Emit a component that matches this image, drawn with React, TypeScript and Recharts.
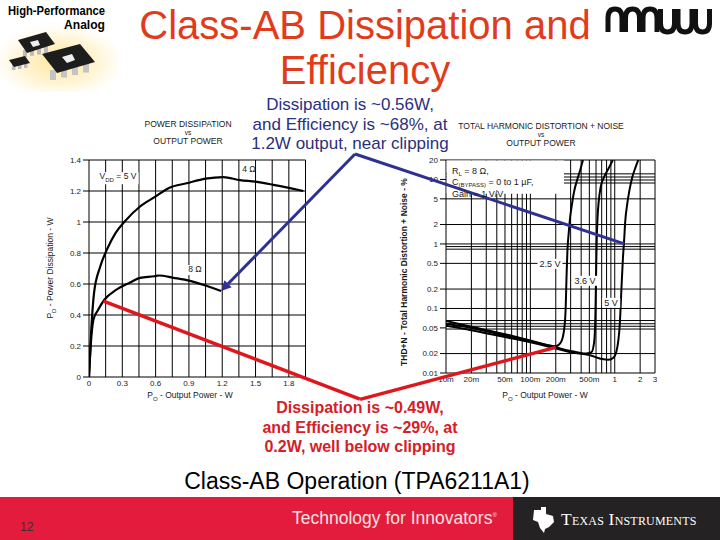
import React from 'react';
import { LineChart, Line, XAxis, YAxis, CartesianGrid, ReferenceLine, ReferenceArea } from 'recharts';

// ---- Power dissipation vs output power (VDD = 5 V) ----
const po4Ohm = [0, 0.02, 0.045, 0.1, 0.16, 0.24, 0.33, 0.46, 0.59, 0.72, 0.88, 1.05, 1.21, 1.36, 1.5, 1.66, 1.8, 1.93];
const pd4Ohm = [0, 0.3, 0.54, 0.71, 0.82, 0.93, 1.01, 1.1, 1.16, 1.22, 1.25, 1.28, 1.29, 1.27, 1.26, 1.24, 1.22, 1.2];
const po8Ohm = [0, 0.015, 0.04, 0.08, 0.14, 0.24, 0.37, 0.46, 0.59, 0.63, 0.76, 0.91, 1.05, 1.19];
const pd8Ohm = [0, 0.2, 0.37, 0.43, 0.5, 0.56, 0.61, 0.64, 0.65, 0.655, 0.64, 0.62, 0.59, 0.555];

const pdTicksX = [0, 0.3, 0.6, 0.9, 1.2, 1.5, 1.8];
const pdTicksY = [0, 0.2, 0.4, 0.6, 0.8, 1, 1.2, 1.4];
const pdGridX = [0, 0.15, 0.3, 0.45, 0.6, 0.75, 0.9, 1.05, 1.2, 1.35, 1.5, 1.65, 1.8, 1.95];

// ---- THD+N vs output power (RL = 8 ohm) ----
const po25V = [0.01, 0.02, 0.05, 0.1, 0.2, 0.23, 0.25, 0.262, 0.268, 0.275, 0.285, 0.295, 0.31, 0.33, 0.36, 0.39, 0.42];
const thd25V = [0.064, 0.052, 0.04, 0.032, 0.026, 0.03, 0.045, 0.1, 0.3, 0.8, 1.5, 2.5, 4, 6.5, 10, 14, 20];
const po36V = [0.01, 0.02, 0.05, 0.1, 0.2, 0.3, 0.45, 0.53, 0.57, 0.59, 0.6, 0.61, 0.625, 0.645, 0.68, 0.75, 0.85, 0.95];
const thd36V = [0.058, 0.05, 0.038, 0.031, 0.025, 0.022, 0.02, 0.021, 0.03, 0.08, 0.3, 1, 2.5, 4.5, 7.5, 11, 15, 20];
const po5V = [0.01, 0.02, 0.05, 0.1, 0.2, 0.3, 0.5, 0.7, 0.83, 0.95, 1.05, 1.15, 1.2, 1.25, 1.29, 1.33, 1.4, 1.5, 1.62, 1.75, 1.9];
const thd5V = [0.054, 0.046, 0.036, 0.03, 0.024, 0.021, 0.019, 0.0165, 0.016, 0.017, 0.022, 0.06, 0.2, 0.6, 1.1, 2.2, 4, 7, 11, 15, 20];

const thdTicksX = [0.01, 0.02, 0.05, 0.1, 0.2, 0.5, 1, 2, 3];
const thdTickLabelsX = ['10m', '20m', '50m', '100m', '200m', '500m', '1', '2', '3'];
const thdTicksY = [0.01, 0.02, 0.05, 0.1, 0.2, 0.5, 1, 2, 5, 10, 20];
const thdGridX = [0.01, 0.02, 0.03, 0.04, 0.05, 0.06, 0.07, 0.08, 0.09, 0.1, 0.2, 0.3, 0.4, 0.5, 0.6, 0.7, 0.8, 0.9, 1, 2, 3];
const thdGridY = [0.01, 0.02, 0.048, 0.053, 0.058, 0.065, 0.1, 0.2, 0.5, 0.83, 0.91, 1, 2, 5, 8.8, 9.8, 10.9, 12.2, 20];

// annotation callouts: [label corner, point on curve] in each chart's data units
const blueLeft = [{ x: 2.396, y: 1.439 }, { x: 1.19, y: 0.555 }];
const redLeft = [{ x: 2.44, y: -0.142 }, { x: 0.13, y: 0.49 }];
const blueRight = [{ x: 0.000835, y: 24.8 }, { x: 1.3, y: 1.0 }];
const redRight = [{ x: 0.000957, y: 0.0039 }, { x: 0.2, y: 0.025 }];

const zip = (xs: number[], ys: number[]) => xs.map((x, i) => ({ x, y: ys[i] }));

const font = '"Liberation Sans", Arial, sans-serif';
const tick = { fontSize: 8, fill: '#1a1a1a', fontFamily: font };
const BLUE = '#2e3192';
const RED = '#e0161d';

const ArrowLine = (props: any) => {
  const { x1, y1, x2, y2, stroke, strokeWidth } = props;
  const a = Math.atan2(y2 - y1, x2 - x1);
  const len = 10;
  const half = 5;
  const bx = x2 - len * Math.cos(a);
  const by = y2 - len * Math.sin(a);
  const pts = `${x2},${y2} ${bx + half * Math.sin(a)},${by - half * Math.cos(a)} ${bx - half * Math.sin(a)},${by + half * Math.cos(a)}`;
  return (
    <g>
      <line x1={x1} y1={y1} x2={bx} y2={by} stroke={stroke} strokeWidth={strokeWidth} />
      <polygon points={pts} fill={stroke} />
    </g>
  );
};

const T = ({ x, y, size = 8.5, color = '#1a1a1a', weight = 'normal', rotate = 0, bg, align = 'center', children }: any) => (
  <div
    style={{
      position: 'absolute',
      left: x,
      top: y,
      transform: `translate(${align === 'left' ? '0' : '-50%'}, -50%) rotate(${rotate}deg)`,
      fontSize: size,
      color,
      fontWeight: weight,
      whiteSpace: 'nowrap',
      lineHeight: 1.15,
      textAlign: 'center',
      background: bg,
      padding: bg ? '0 2px' : 0,
    }}
  >
    {children}
  </div>
);

const DissipationChart = () => (
  <div style={{ position: 'absolute', left: 40, top: 150 }}>
    <LineChart width={280} height={257} margin={{ top: 10, right: 14.5, bottom: 0, left: 0 }}>
      <CartesianGrid vertical={false} stroke="#000" strokeWidth={1} />
      {pdGridX.map((v) => (
        <ReferenceLine key={v} x={v} stroke="#000" strokeWidth={1} zIndex={-100} />
      ))}
      <XAxis type="number" dataKey="x" domain={[0, 1.95]} ticks={pdTicksX} interval={0} allowDataOverflow
        axisLine={false} tickLine={false} tickSize={0} tickMargin={3} tick={tick} height={30} />
      <YAxis type="number" dataKey="y" domain={[0, 1.4]} ticks={pdTicksY} interval={0} allowDataOverflow
        axisLine={false} tickLine={{ stroke: '#000' }} tickSize={6} tickMargin={2} width={49} tick={tick} />
      <Line data={zip(po4Ohm, pd4Ohm)} dataKey="y" type="monotone" stroke="#000" strokeWidth={2.2} dot={false} isAnimationActive={false} />
      <Line data={zip(po8Ohm, pd8Ohm)} dataKey="y" type="monotone" stroke="#000" strokeWidth={2.2} dot={false} isAnimationActive={false} />
      <ReferenceLine segment={blueLeft} ifOverflow="visible" stroke={BLUE} strokeWidth={3} shape={ArrowLine} zIndex={2500} />
      <ReferenceLine segment={redLeft} ifOverflow="visible" stroke={RED} strokeWidth={3.5} zIndex={2500} />
    </LineChart>
  </div>
);

const ThdChart = () => (
  <div style={{ position: 'absolute', left: 395, top: 150 }}>
    <LineChart width={275} height={253} margin={{ top: 10, right: 15, bottom: 0, left: 0 }}>
      {thdGridX.map((v) => (
        <ReferenceLine key={'x' + v} x={v} stroke="#000" strokeWidth={1} zIndex={-100} />
      ))}
      {thdGridY.map((v) => (
        <ReferenceLine key={'y' + v} y={v} stroke="#000" strokeWidth={1} zIndex={-100} />
      ))}
      <ReferenceArea x1={0.0102} x2={0.25} y1={6} y2={19.6} fill="#fff" fillOpacity={1} stroke="none" zIndex={-50} />
      <XAxis type="number" dataKey="x" scale="log" domain={[0.01, 3]} ticks={thdTicksX} interval={0} allowDataOverflow
        tickFormatter={(v: number) => thdTickLabelsX[thdTicksX.indexOf(v)]}
        axisLine={false} tickLine={false} tickSize={0} tickMargin={3} tick={tick} height={30} />
      <YAxis type="number" dataKey="y" scale="log" domain={[0.01, 20]} ticks={thdTicksY} interval={0} allowDataOverflow
        tickFormatter={(v: number) => String(v)}
        axisLine={false} tickLine={{ stroke: '#000' }} tickSize={6} tickMargin={2} width={51} tick={tick} />
      <Line data={zip(po25V, thd25V)} dataKey="y" type="monotone" stroke="#000" strokeWidth={2} dot={false} isAnimationActive={false} />
      <Line data={zip(po36V, thd36V)} dataKey="y" type="monotone" stroke="#000" strokeWidth={2} dot={false} isAnimationActive={false} />
      <Line data={zip(po5V, thd5V)} dataKey="y" type="monotone" stroke="#000" strokeWidth={2} dot={false} isAnimationActive={false} />
      <ReferenceLine segment={blueRight} ifOverflow="visible" stroke={BLUE} strokeWidth={3} zIndex={2500} />
      <ReferenceLine segment={redRight} ifOverflow="visible" stroke={RED} strokeWidth={3.5} zIndex={2500} />
    </LineChart>
  </div>
);

// arrow-style wordmark: three arches, then three cups
const logoArches = [true, true, true, false, false, false];

const App: React.FC = () => (
  <div style={{ position: 'absolute', left: 0, top: 0, width: 720, height: 540, background: '#fff', overflow: 'hidden', fontFamily: font }}>
    <style>{'.recharts-surface, .recharts-wrapper { overflow: visible !important; }'}</style>

    {/* top-left product badge */}
    <svg width={118} height={92} style={{ position: 'absolute', left: 0, top: 0 }}>
      <defs>
        <radialGradient id="glow" cx="50%" cy="55%" r="55%">
          <stop offset="0%" stopColor="#ffe69a" />
          <stop offset="60%" stopColor="#fff5d6" />
          <stop offset="100%" stopColor="#ffffff" />
        </radialGradient>
      </defs>
      <rect x={0} y={24} width={118} height={68} fill="url(#glow)" />
      <text x={8} y={15} fontSize={12} fontWeight="bold" fontFamily={font} textLength={97} lengthAdjust="spacingAndGlyphs">High-Performance</text>
      <text x={64} y={29} fontSize={12} fontWeight="bold" fontFamily={font} textLength={41} lengthAdjust="spacingAndGlyphs">Analog</text>
      {[0, 1, 2, 3].map((i) => <rect key={'a' + i} x={23 + i * 7} y={50 - i * 1.2} width={4} height={7} fill="#bbb" />)}
      <polygon points="18,40 46,32 55,44 27,53" fill="#1d1d1d" />
      {[0, 1, 2].map((i) => <rect key={'b' + i} x={12 + i * 6} y={64 - i} width={3.5} height={6} fill="#bbb" />)}
      <polygon points="9,60 25,56 30,63 14,67" fill="#1d1d1d" />
      {[0, 1, 2, 3].map((i) => <rect key={'c' + i} x={50 + i * 11} y={70 - i * 2.5} width={6} height={10} fill="#c4c4c4" />)}
      <polygon points="42,54 80,44 95,62 57,73" fill="#1d1d1d" />
      <polygon points="62,57 72,54 75,60 67,63" fill="#eee" />
      <polygon points="30,42 38,40 40,45 33,47" fill="#eee" />
    </svg>

    {/* top-right logo */}
    <svg width={112} height={34} style={{ position: 'absolute', left: 603, top: 4 }}>
      {logoArches.map((up, i) => {
        const x0 = 5 + i * 17.5;
        const d = up
          ? `M${x0} 28 V14 Q${x0} 5 ${x0 + 7} 5 Q${x0 + 14} 5 ${x0 + 14} 14 V28`
          : `M${x0} 5 V19 Q${x0} 28 ${x0 + 7} 28 Q${x0 + 14} 28 ${x0 + 14} 19 V5`;
        return <path key={i} d={d} stroke="#111" strokeWidth={5} fill="none" />;
      })}
    </svg>

    {/* title */}
    <div style={{ position: 'absolute', left: 0, top: 3, width: 730, textAlign: 'center', color: '#e23b1c', fontSize: 40, lineHeight: '45px' }}>
      Class-AB Dissipation and
      <br />
      Efficiency
    </div>

    {/* chart captions */}
    <T x={188} y={125} size={8.5}>POWER DISSIPATION</T>
    <T x={188} y={133} size={6.5}>vs</T>
    <T x={188} y={142} size={8.5}>OUTPUT POWER</T>
    <T x={541} y={127} size={8.5}>TOTAL HARMONIC DISTORTION + NOISE</T>
    <T x={541} y={135} size={6.5}>vs</T>
    <T x={541} y={144} size={8.5}>OUTPUT POWER</T>

    <DissipationChart />
    <ThdChart />

    {/* axis titles */}
    <T x={52} y={268} rotate={-90}>P<sub style={{ fontSize: 6 }}>D</sub> - Power Dissipation - W</T>
    <T x={190} y={397}>P<sub style={{ fontSize: 6 }}>O</sub> - Output Power - W</T>
    <T x={405} y={272} rotate={-90} weight="bold">THD+N - Total Harmonic Distortion + Noise - %</T>
    <T x={545} y={397}>P<sub style={{ fontSize: 6 }}>O</sub> - Output Power - W</T>

    {/* in-plot labels */}
    <T x={118} y={178} bg="#fff">V<sub style={{ fontSize: 6 }}>DD</sub> = 5 V</T>
    <T x={249} y={170}>4 Ω</T>
    <T x={195} y={270} bg="#fff">8 Ω</T>
    <T x={452} y={172} align="left" size={9}>R<sub style={{ fontSize: 6 }}>L</sub> = 8 Ω,</T>
    <T x={452} y={183} align="left" size={9}>C<sub style={{ fontSize: 6 }}>(BYPASS)</sub> = 0 to 1 µF,</T>
    <T x={452} y={194} align="left" size={9}>Gain = 1 V/V</T>
    <T x={550} y={264} bg="#fff" size={9}>2.5 V</T>
    <T x={585} y={281} bg="#fff" size={9}>3.6 V</T>
    <T x={611} y={303} bg="#fff" size={9}>5 V</T>

    {/* callout texts */}
    <div style={{ position: 'absolute', left: 200, width: 300, top: 95, textAlign: 'center', color: '#2b2f7e', fontSize: 17, lineHeight: '19.5px' }}>
      Dissipation is ~0.56W,
      <br />
      and Efficiency is ~68%, at
      <br />
      1.2W output, near clipping
    </div>
    <div style={{ position: 'absolute', left: 210, width: 300, top: 398, textAlign: 'center', color: '#d42027', fontSize: 16, fontWeight: 'bold', lineHeight: '19.5px' }}>
      Dissipation is ~0.49W,
      <br />
      and Efficiency is ~29%, at
      <br />
      0.2W, well below clipping
    </div>

    <div style={{ position: 'absolute', left: 157, width: 400, top: 468, textAlign: 'center', color: '#000', fontSize: 23, lineHeight: '26px' }}>
      Class-AB Operation (TPA6211A1)
    </div>

    {/* footer */}
    <div style={{ position: 'absolute', left: 0, top: 497, width: 513, height: 43, background: '#e31c3d' }} />
    <div style={{ position: 'absolute', left: 513, top: 497, width: 207, height: 43, background: '#252223' }} />
    <div style={{ position: 'absolute', left: 20, top: 520, fontSize: 12, color: '#333' }}>12</div>
    <div style={{ position: 'absolute', left: 292, top: 508, fontSize: 17.5, color: '#f6e2e2', whiteSpace: 'nowrap' }}>
      Technology for Innovators<sup style={{ fontSize: 6 }}>®</sup>
    </div>
    <svg width={24} height={26} style={{ position: 'absolute', left: 532, top: 507 }}>
      <polygon points="2,3 9,3 9,0 14,0 14,7 21,9 22,15 17,20 13,22 12,26 8,21 6,15 1,13" fill="#fff" />
    </svg>
    <div style={{ position: 'absolute', left: 561, top: 509, fontSize: 17.5, color: '#fff', fontFamily: '"Liberation Serif", serif', fontVariant: 'small-caps', whiteSpace: 'nowrap', letterSpacing: 0.2 }}>
      Texas Instruments
    </div>
  </div>
);

export default App;
